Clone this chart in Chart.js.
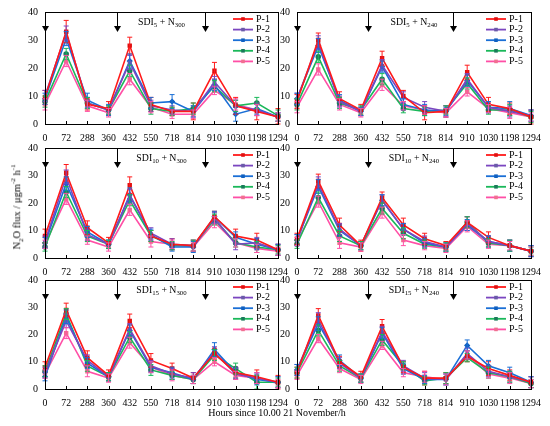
<html>
<head>
  <script src="https://cdn.jsdelivr.net/npm/chart.js@4.4.0/dist/chart.umd.min.js"></script>
  <style>
    body { margin: 0; background: #fff; }
    #wrap { position: relative; width: 550px; height: 426px; background: #fff; overflow: hidden; }
    #wrap canvas { position: absolute; left: 0; }
    .lab { position: absolute; font-family: "Liberation Serif", "Times New Roman", serif; font-size: 10.5px; color: #000; white-space: nowrap; }
    .lab sub, .lab sup { font-size: 7px; }
    #xlab { left: 0; width: 554px; top: 407px; text-align: center; font-size: 10px; }
    #ylab { left: 17px; top: 207px; transform: translate(-50%, -50%) rotate(-90deg); }
  </style>
</head>

<body>
  <div id="wrap">
    <canvas id="c0" width="550" height="144" style="top:2px"></canvas>
    <canvas id="c1" width="550" height="144" style="top:2px"></canvas>
    <canvas id="c2" width="550" height="142" style="top:138px"></canvas>
    <canvas id="c3" width="550" height="142" style="top:138px"></canvas>
    <canvas id="c4" width="550" height="141" style="top:270px"></canvas>
    <canvas id="c5" width="550" height="141" style="top:270px"></canvas>
    <div class="lab" id="ylab">N<sub>2</sub>O flux / μgm<sup>-2</sup> h<sup>-1</sup></div>
    <div class="lab" id="xlab">Hours since 10.00 21 November/h</div>
  </div>
</body>

<script>
  // sampling times (h) and treatments
  const hours = ['0', '72', '288', '360', '432', '550', '718', '814', '910', '1030', '1198', '1294'];
  const seriesNames = ['P-1', 'P-2', 'P-3', 'P-4', 'P-5'];
  const sdiLevels = ['5', '5', '10', '10', '15', '15'];
  const nLevels = ['300', '240', '300', '240', '300', '240'];
  // arrows (fertigation events), as category positions, left and right column
  const arrowsLeft = [0, 3.4, 7.55];
  const arrowsRight = [0, 3.33, 7.32];

  // N2O flux, one row per series P-1..P-5
  const sdi5_n300 = [
    [9.5, 33, 7, 5.5, 28, 7, 4.5, 4.5, 19, 6.5, 4.5, 2.5],
    [10, 32.5, 7.5, 5, 22, 6.5, 5, 4.5, 15, 6.5, 5, 2.5],
    [9, 30.5, 8.5, 5, 22.5, 7.5, 8, 4.5, 14, 3.5, 5.5, 2.5],
    [8, 25, 7.5, 5, 19, 5.5, 4.5, 5.5, 13.5, 6.5, 7.5, 3],
    [7, 22.5, 6.5, 4, 16, 6, 3.5, 3.5, 12, 7, 5, 2.5]
  ];
  const sdi5_n300_err = [
    [2.5, 4, 2, 2.5, 3, 2.5, 1.5, 3, 3, 3, 3, 3],
    [2, 2.5, 2, 1.5, 2.5, 2, 1.5, 2, 2, 2, 2, 1.5],
    [2, 2.5, 2.5, 2, 2.5, 2, 2.5, 2, 2, 2.5, 2, 1.5],
    [2, 2, 2, 1.5, 2, 2, 1.5, 2, 2, 2, 2, 2],
    [2, 2, 2, 1.5, 2, 2, 1.5, 1.5, 1.5, 2, 2, 1.5]
  ];
  const sdi5_n240 = [
    [8, 30, 9, 5, 23.5, 10, 4, 4.5, 18.5, 7, 5.5, 2.5],
    [9, 29, 8, 4.5, 21, 9.5, 6, 4.5, 16, 6, 4.5, 3],
    [9, 28, 8.5, 4.5, 20.5, 7, 5, 4.5, 15.5, 6, 5.5, 3],
    [7, 24, 7.5, 5, 16, 5.5, 4.5, 5, 14.5, 5, 5, 2.5],
    [6, 19.5, 7, 4, 14, 6.5, 5, 4, 11.5, 5.5, 4, 2.5]
  ];
  const sdi5_n240_err = [
    [2.5, 2.5, 2.5, 2, 2.5, 2, 2.5, 2, 2.5, 2.5, 2, 2.5],
    [2, 2.5, 2, 1.5, 2, 2, 2, 2, 2, 2, 2, 2],
    [2, 2.5, 2, 1.5, 2, 2, 2, 1.5, 2, 2, 2.5, 2],
    [2, 2, 2, 1.5, 2, 1.5, 1.5, 1.5, 2, 1.5, 2, 2],
    [2, 2, 2, 1.5, 2, 1.5, 1.5, 1.5, 1.5, 1.5, 2, 1.5]
  ];
  const sdi10_n300 = [
    [8, 31, 11, 5.5, 26.5, 8, 5, 4.5, 15, 8, 6.5, 3],
    [6, 29.5, 8.5, 5, 22.5, 9, 5, 4.5, 14.5, 5, 5.5, 3],
    [5.5, 27, 9.5, 5, 23, 8.5, 4, 4, 15, 7.5, 5, 3],
    [4, 24, 8, 5, 21, 8, 4.5, 4.5, 14, 5.5, 4, 3],
    [5, 21.5, 6.5, 4, 17.5, 6, 5, 4, 13, 5.5, 3.5, 2.5]
  ];
  const sdi10_n300_err = [
    [2.5, 3, 2.5, 2, 3, 2, 2, 2, 2, 2.5, 2.5, 2],
    [2, 2.5, 2, 1.5, 2.5, 2, 2, 2, 2, 2, 2, 2],
    [2, 2.5, 2, 1.5, 2.5, 2, 1.5, 2, 2, 2, 2, 2],
    [1.5, 2, 2, 1.5, 2, 2, 1.5, 2, 2, 1.5, 2, 1.5],
    [1.5, 2, 1.5, 1.5, 2, 2, 1.5, 1.5, 2, 1.5, 1.5, 1.5]
  ];
  const sdi10_n240 = [
    [7, 28, 12, 4.5, 22, 12, 7, 4.5, 13, 7.5, 4.5, 2.5],
    [6.5, 27, 10.5, 4.5, 21, 10.5, 6, 4, 12.5, 6, 4.5, 2.5],
    [6.5, 26, 10, 4.5, 21, 10.5, 5.5, 4, 12, 6, 4.5, 2.5],
    [5, 22, 8, 4.5, 18, 9, 5, 4, 13, 5.5, 4.5, 2.5],
    [6, 20.5, 5.5, 4, 16.5, 6.5, 4.5, 3.5, 11.5, 5, 4.5, 2.5]
  ];
  const sdi10_n240_err = [
    [2, 2.5, 2.5, 2, 2, 2.5, 2, 1.5, 2, 2, 2, 2],
    [2, 2.5, 2, 1.5, 2, 2, 2, 1.5, 2.5, 2, 2, 2],
    [2, 2.5, 2, 1.5, 2, 2, 1.5, 1.5, 2, 2, 2, 2],
    [1.5, 2, 2, 1.5, 2, 2, 1.5, 1.5, 2, 1.5, 2, 1.5],
    [1.5, 2, 2, 1.5, 2, 2, 1.5, 1.5, 2, 1.5, 1.5, 1.5]
  ];
  const sdi15_n300 = [
    [8, 29, 11.5, 5, 25, 10.5, 7.5, 4, 13, 6, 4.5, 2.5],
    [6, 25, 10.5, 4.5, 22, 8.5, 5.5, 4, 13.5, 5.5, 4, 2.5],
    [4.5, 26.5, 9.5, 4.5, 21.5, 8, 6, 3.5, 14.5, 6, 3.5, 2.5],
    [6.5, 27.5, 8.5, 4.5, 19, 7, 5, 3.5, 12.5, 7.5, 2.5, 2.5],
    [5.5, 20.5, 6.5, 4, 17, 8, 5, 3.5, 10, 5, 4, 2]
  ];
  const sdi15_n300_err = [
    [2, 2.5, 2.5, 2, 2.5, 2.5, 2, 2, 2, 2, 2.5, 2.5],
    [2, 2.5, 2, 1.5, 2, 2, 2, 2, 2, 2, 2, 2],
    [1.5, 2.5, 2, 1.5, 2, 2, 2, 1.5, 2.5, 2, 2, 2],
    [2, 2, 2, 1.5, 2, 2, 1.5, 1.5, 2, 2, 2.5, 1.5],
    [1.5, 2, 2, 1.5, 2, 2, 2, 1.5, 1.5, 1.5, 2, 1.5]
  ];
  const sdi15_n240 = [
    [6, 27, 10, 4.5, 23, 8, 4, 4, 12, 7.5, 5, 2.5],
    [7, 25.5, 9.5, 4, 21, 8.5, 4, 3.5, 13, 6.5, 4.5, 2.5],
    [7, 24, 10.5, 4, 20.5, 7.5, 3.5, 3.5, 16, 8.5, 6, 2.5],
    [6, 21.5, 8.5, 4, 18, 8.5, 3, 4, 11.5, 6, 4.5, 2],
    [5, 18.5, 7.5, 3.5, 16, 6, 4.5, 3.5, 12.5, 5.5, 4, 2]
  ];
  const sdi15_n240_err = [
    [2, 2.5, 2, 2, 2.5, 2, 2.5, 2, 2, 2.5, 2, 2],
    [2, 2.5, 2, 1.5, 2, 2, 2, 2, 2, 2, 2, 2],
    [2, 2.5, 2, 1.5, 2, 2, 1.5, 2, 2, 2, 2, 2],
    [2, 2, 2, 1.5, 2, 1.5, 1.5, 2, 1.5, 2, 2, 1.5],
    [1.5, 1.5, 1.5, 1.5, 1.5, 1.5, 2, 2, 1.5, 1.5, 2, 1.5]
  ];

  const panelData = [sdi5_n300, sdi5_n240, sdi10_n300, sdi10_n240, sdi15_n300, sdi15_n240];
  const panelErr = [sdi5_n300_err, sdi5_n240_err, sdi10_n300_err, sdi10_n240_err, sdi15_n300_err, sdi15_n240_err];

  const colors = ['#ff1a1a', '#7b46c0', '#1a6fd6', '#1ab85a', '#ff4fa6'];
  const markerColors = ['#e01010', '#6a5aa8', '#1060c0', '#1a7a5a', '#f07090'];
  const shapes = ['rect', 'star', 'rectRot', 'circle', 'rect'];
  const serif = '"Liberation Serif", "Times New Roman", serif';

  // chart area bounds per row / column (page pixels)
  const rowTop = [12, 148, 280];
  const rowBottom = [124, 258, 389];
  const canvasTop = [2, 138, 270];
  const colLeft = [45, 297];
  const colRight = [278, 531];

  const panelInfo = {};

  // title with subscripts, e.g. SDI5 + N300
  function drawParts(ctx, parts, cx, cy) {
    const big = '9.8px ' + serif, small = '6.8px ' + serif;
    let w = 0;
    parts.forEach(p => { ctx.font = p[1] ? small : big; w += ctx.measureText(p[0]).width; });
    let x = cx - w / 2;
    ctx.textBaseline = 'middle';
    ctx.textAlign = 'left';
    ctx.fillStyle = '#000';
    parts.forEach(p => {
      ctx.font = p[1] ? small : big;
      ctx.fillText(p[0], x, p[1] ? cy + 3 : cy);
      x += ctx.measureText(p[0]).width;
    });
  }

  const decor = {
    id: 'decor',
    afterDatasetsDraw(chart) {
      const ctx = chart.ctx, ys = chart.scales.y;
      ctx.save();
      chart.data.datasets.forEach((ds, i) => {
        const meta = chart.getDatasetMeta(i);
        ctx.strokeStyle = ds.borderColor;
        ctx.lineWidth = 1;
        meta.data.forEach((pt, j) => {
          const v = ds.data[j], e = ds.err[j];
          const y1 = ys.getPixelForValue(v + e), y2 = ys.getPixelForValue(Math.max(0, v - e));
          ctx.beginPath();
          ctx.moveTo(pt.x, y1); ctx.lineTo(pt.x, y2);
          ctx.moveTo(pt.x - 2.5, y1); ctx.lineTo(pt.x + 2.5, y1);
          ctx.moveTo(pt.x - 2.5, y2); ctx.lineTo(pt.x + 2.5, y2);
          ctx.stroke();
        });
      });
      ctx.restore();
    },
    afterDraw(chart) {
      const ctx = chart.ctx, a = chart.chartArea, xs = chart.scales.x;
      const info = panelInfo[chart.canvas.id];
      ctx.save();
      // frame
      ctx.strokeStyle = '#000';
      ctx.lineWidth = 1;
      ctx.strokeRect(Math.round(a.left) + 0.5, Math.round(a.top) + 0.5, Math.round(a.right - a.left), Math.round(a.bottom - a.top));
      // inward ticks
      ctx.beginPath();
      hours.forEach((h, i) => {
        const x = Math.round(xs.getPixelForValue(i)) + 0.5;
        ctx.moveTo(x, a.bottom); ctx.lineTo(x, a.bottom - 3);
      });
      ctx.stroke();
      // arrows
      ctx.fillStyle = '#000';
      info.arrows.forEach(p => {
        const x = Math.round(xs.getPixelForValue(p)) + 0.5;
        ctx.beginPath();
        ctx.moveTo(x, a.top); ctx.lineTo(x, a.top + 15);
        ctx.stroke();
        ctx.beginPath();
        ctx.moveTo(x - 3.5, a.top + 14); ctx.lineTo(x + 3.5, a.top + 14); ctx.lineTo(x, a.top + 20);
        ctx.closePath(); ctx.fill();
      });
      // panel title
      drawParts(ctx, [['SDI', false], [info.sdi, true], [' + N', false], [info.n, true]],
        (a.left + a.right) / 2, a.top + 10);
      // legend
      chart.data.datasets.forEach((ds, i) => {
        const y = a.top + 7 + i * 10.6;
        const x0 = a.right - 45, x1 = a.right - 25;
        ctx.strokeStyle = ds.borderColor;
        ctx.lineWidth = 1.8;
        ctx.beginPath(); ctx.moveTo(x0, y); ctx.lineTo(x1, y); ctx.stroke();
        ctx.fillStyle = ds.pointBackgroundColor;
        ctx.fillRect((x0 + x1) / 2 - 1.8, y - 1.8, 3.6, 3.6);
        ctx.fillStyle = '#000';
        ctx.font = '10px ' + serif;
        ctx.textAlign = 'left';
        ctx.textBaseline = 'middle';
        ctx.fillText(ds.label, a.right - 22, y);
      });
      ctx.restore();
    }
  };

  panelData.forEach((rows, p) => {
    const r = Math.floor(p / 2), c = p % 2;
    const id = 'c' + p;
    panelInfo[id] = { sdi: sdiLevels[p], n: nLevels[p], arrows: c === 0 ? arrowsLeft : arrowsRight };
    const datasets = rows.map((vals, i) => ({
      label: seriesNames[i],
      data: vals,
      err: panelErr[p][i],
      borderColor: colors[i],
      backgroundColor: colors[i],
      pointBackgroundColor: markerColors[i],
      pointBorderColor: markerColors[i],
      pointStyle: shapes[i],
      pointRadius: 2,
      borderWidth: 1.6,
      tension: 0
    }));
    const yw = 30;
    new Chart(document.getElementById(id), {
      type: 'line',
      data: { labels: hours, datasets },
      options: {
        responsive: false,
        animation: false,
        layout: {
          padding: {
            top: rowTop[r] - canvasTop[r],
            bottom: 0,
            left: colLeft[c] - yw,
            right: 550 - colRight[c]
          }
        },
        plugins: { legend: { display: false }, tooltip: { enabled: false } },
        scales: {
          x: {
            grid: { display: false, drawTicks: false },
            border: { display: true, color: '#000', width: 1 },
            ticks: { autoSkip: false, maxRotation: 0, minRotation: 0, padding: 9, color: '#000', font: { family: serif, size: 9.8 } },
            afterFit(axis) { axis.height = 22; axis.paddingLeft = 0; axis.paddingRight = 0; }
          },
          y: {
            min: 0, max: 40,
            grid: { display: false, drawTicks: false },
            border: { display: true, color: '#000', width: 1 },
            ticks: { stepSize: 10, padding: 7, color: '#000', font: { family: serif, size: 10 } },
            afterFit(axis) { axis.width = yw; axis.paddingTop = 0; axis.paddingBottom = 0; }
          }
        }
      },
      plugins: [decor]
    });
  });
</script>

</html>
